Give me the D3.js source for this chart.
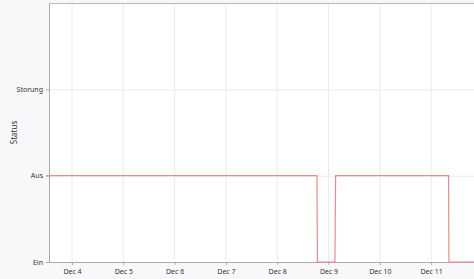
<!DOCTYPE html>
<html><head><meta charset="utf-8">
<script src="https://cdn.jsdelivr.net/npm/d3@7"></script>
<style>
html,body{margin:0;padding:0;background:#f8f8fa;}
svg{display:block;font-family:"Noto Sans","Open Sans",sans-serif;}
</style></head><body>
<svg id="c" width="474" height="279"></svg>
<script>
const statusLabels = ["Ein", "Aus", "Storung"];
const times = ["2023-12-03T12:00", "2023-12-08T18:35", "2023-12-08T18:50", "2023-12-09T03:00", "2023-12-09T03:20", "2023-12-11T08:10", "2023-12-11T08:20", "2023-12-12T00:00"];
const statusValues = [1, 1, 0, 0, 1, 1, 0, 0];
const tickDates = ["2023-12-04", "2023-12-05", "2023-12-06", "2023-12-07", "2023-12-08", "2023-12-09", "2023-12-10", "2023-12-11"];

const W = 474, H = 279;
const m = {left: 49, top: 3, right: 0, bottom: 17};
const svg = d3.select("#c");
const parse = d3.timeParse("%Y-%m-%dT%H:%M");
const parseDay = d3.timeParse("%Y-%m-%d");
const ticks = tickDates.map(parseDay);
const pxPerDay = 51.3;
const x0 = new Date(ticks[0].getTime() - (72 - m.left) / pxPerDay * 864e5);
const x1 = new Date(ticks[0].getTime() + (W - 72) / pxPerDay * 864e5);
const x = d3.scaleTime().domain([x0, x1]).range([m.left, W - m.right]);
const y = d3.scaleLinear().domain([0, 3]).range([H - m.bottom, m.top]);

svg.append("rect").attr("x", m.left).attr("y", m.top).attr("width", W - m.left).attr("height", H - m.bottom - m.top).attr("fill", "#fff");

// grid
svg.append("g").selectAll("line").data(ticks).join("line")
  .attr("x1", d => x(d)).attr("x2", d => x(d)).attr("y1", m.top).attr("y2", H - m.bottom)
  .attr("stroke", "#ececf0").attr("stroke-width", 1);
svg.append("g").selectAll("line").data([1, 2]).join("line")
  .attr("x1", m.left).attr("x2", W).attr("y1", d => y(d) + 0.5).attr("y2", d => y(d) + 0.5)
  .attr("stroke", "#ececf0").attr("stroke-width", 1);

// top border
svg.append("line").attr("x1", m.left).attr("x2", W).attr("y1", m.top + 0.5).attr("y2", m.top + 0.5).attr("stroke", "#b8b8c8");

// axes
const xAxis = svg.append("g").attr("transform", `translate(0,${H - m.bottom})`)
  .call(d3.axisBottom(x).tickValues(ticks).tickFormat(d3.timeFormat("%b %-d")).tickSize(3).tickSizeOuter(0));
const yAxis = svg.append("g").attr("transform", `translate(${m.left},0)`)
  .call(d3.axisLeft(y).tickValues([0, 1, 2]).tickFormat(d => statusLabels[d]).tickSize(3).tickSizeOuter(0));
[xAxis, yAxis].forEach(g => {
  g.select(".domain").attr("stroke", "#aaaaaa");
  g.selectAll(".tick line").attr("stroke", "#aaaaaa");
  g.selectAll("text").attr("fill", "#333").style("font-size", "7px").style("font-family", "'Noto Sans', sans-serif");
});
xAxis.selectAll("text").attr("dy", "0.9em");

svg.append("text").attr("transform", `translate(17,${(m.top + H - m.bottom) / 2}) rotate(-90)`)
  .attr("text-anchor", "middle").attr("fill", "#333").style("font-size", "8px").text("Status");

// line
const data = times.map((t, i) => ({t: parse(t), v: statusValues[i]}));
svg.append("path").datum(data)
  .attr("fill", "none").attr("stroke", "#f08a8a").attr("stroke-width", 1.2)
  .attr("d", d3.line().x(d => x(d.t)).y(d => y(d.v)));
</script>
</body></html>
